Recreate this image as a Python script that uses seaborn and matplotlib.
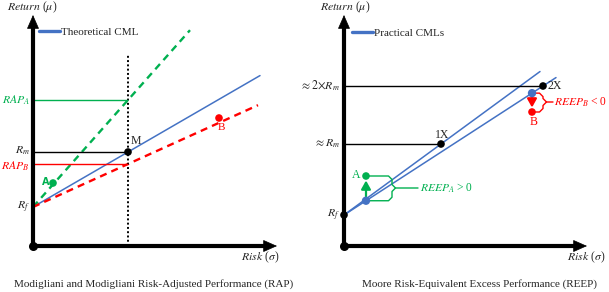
import numpy as np
import matplotlib as mpl
import matplotlib.pyplot as plt
import seaborn as sns

# ---- left panel (RAP): risk / return in schematic units ----
rf_left = 3.9
m_risk, m_return = 9.5, 9.4
rap_a = 14.6
rap_b = 8.2
cml_end = 22.7
green_end = 15.7
red_end = 22.5
point_a = (2.0, 6.3)
point_b = (18.6, 12.8)
dotted_top = 19.2

# ---- right panel (REEP) ----
rf_right = 3.1
x1_point = (9.7, 10.2)
x2_point = (19.9, 16.0)
upper_end = 19.6
lower_end = 21.2
a_risk, a_return = 2.2, 7.0
b_risk, b_return = 18.8, 13.4

BLUE = '#4472C4'
GREEN = '#00B050'
RED = '#FF0000'
FS = 8

sns.set_theme(style='white')
plt.rcParams['font.family'] = ['Liberation Serif', 'DejaVu Serif']
plt.rcParams['mathtext.fontset'] = 'stix'


def draw_axes(ax, xmax, ymax):
    ax.plot([0, xmax - 1.0], [0, 0], lw=3, color='black', solid_capstyle='butt', zorder=5)
    ax.plot([0, 0], [0, ymax - 1.0], lw=3, color='black', solid_capstyle='butt', zorder=5)
    head = dict(arrowstyle='-|>,head_length=0.75,head_width=0.33', mutation_scale=12,
                lw=0.5, color='black', shrinkA=0, shrinkB=0)
    ax.annotate('', xy=(xmax, 0), xytext=(xmax - 1.5, 0), arrowprops=head, zorder=6)
    ax.annotate('', xy=(0, ymax), xytext=(0, ymax - 1.5), arrowprops=head, zorder=6)
    ax.scatter([0], [0], s=30, color='black', zorder=7)


def line_from(ax, x0, y0, slope, x_end, **kw):
    xs = np.array([x0, x_end])
    sns.lineplot(x=xs, y=y0 + slope * (xs - x0), ax=ax, estimator=None, **kw)


def brace(ax, x0, top, bottom, bx, tx, mid, color):
    # a right-facing curly brace joining two points, with a tick out to the label
    c = 0.35
    ax.plot([x0, bx - c, bx, bx, bx + c, tx], [top, top, top - c, mid + c, mid, mid],
            color=color, lw=1.0, solid_joinstyle='round')
    ax.plot([bx + c, bx, bx, bx - c, x0], [mid, mid - c, bottom + c, bottom, bottom],
            color=color, lw=1.0, solid_joinstyle='round')


fig = plt.figure(figsize=(6.09, 2.92), dpi=100)
axL = fig.add_axes([0, 0, 304 / 609, 1])
axR = fig.add_axes([305 / 609, 0, 304 / 609, 1])
axL.set_xlim(-3.3, 27.1)
axR.set_xlim(-3.9, 26.5)
for ax in (axL, axR):
    ax.set_ylim(-4.6, 24.6)
    ax.axis('off')

# ================= left panel =================
ax = axL
draw_axes(ax, 24.4, 23.1)
cml_slope = (m_return - rf_left) / m_risk
green_slope = (rap_a - rf_left) / m_risk
red_slope = (rap_b - rf_left) / m_risk

line_from(ax, 0, rf_left, cml_slope, cml_end, color=BLUE, lw=1.1, label='Theoretical CML')
line_from(ax, 0, rf_left, green_slope, green_end, color=GREEN, lw=1.7, linestyle=(0, (3, 2.2)))
line_from(ax, 0, rf_left, red_slope, red_end, color=RED, lw=1.7, linestyle=(0, (3, 2.2)))

ax.vlines(m_risk, 0, dotted_top, color='black', lw=1.4, linestyles=(0, (1, 1.2)))
ax.hlines(rap_a, 0, m_risk, color=GREEN, lw=1.0)
ax.hlines(m_return, 0, m_risk, color='black', lw=1.0)
ax.hlines(rap_b, 0, m_risk, color=RED, lw=1.0)

sns.scatterplot(x=[m_risk], y=[m_return], ax=ax, color='black', s=30, edgecolor='none', zorder=8)
sns.scatterplot(x=[point_a[0]], y=[point_a[1]], ax=ax, color=GREEN, s=30, edgecolor='none', zorder=8)
sns.scatterplot(x=[point_b[0]], y=[point_b[1]], ax=ax, color=RED, s=30, edgecolor='none', zorder=8)

ax.text(m_risk + 0.3, m_return + 1.1, 'M', fontsize=FS + 0.5, ha='left', va='center')
ax.text(point_a[0] - 0.4, point_a[1] + 0.1, 'A', fontsize=7, color=GREEN, fontweight='bold',
        family='DejaVu Sans', ha='right', va='center')
ax.text(point_b[0] + 0.2, point_b[1] - 0.9, 'B', fontsize=FS, color=RED, ha='center', va='center')

ax.text(-0.3, rap_a, r'$RAP_A$', fontsize=FS + 0.5, color=GREEN, ha='right', va='center')
ax.text(-0.3, m_return + 0.1, r'$R_m$', fontsize=FS + 0.5, ha='right', va='center')
ax.text(-0.3, rap_b - 0.2, r'$RAP_B$', fontsize=FS + 0.5, color=RED, ha='right', va='center')
ax.text(-0.3, rf_left, r'$R_f$', fontsize=FS + 0.5, ha='right', va='center')

ax.text(-0.1, 23.9, r'$Return$ ($\mu$)', fontsize=FS + 0.5, ha='center', va='center')
ax.text(24.6, -1.1, r'$Risk$ ($\sigma$)', fontsize=FS + 0.5, ha='right', va='center')
ax.text(12.1, -3.8, 'Modigliani and Modigliani Risk-Adjusted Performance (RAP)',
        fontsize=FS, ha='center', va='center')

leg = ax.legend(loc='center left', bbox_to_anchor=(0.6, 21.4), bbox_transform=ax.transData,
                frameon=False, borderpad=0, borderaxespad=0, handlelength=1.9,
                handletextpad=0.1, fontsize=FS)
for h in leg.legend_handles:
    h.set_linewidth(2.4)

# ================= right panel =================
ax = axR
draw_axes(ax, 24.3, 23.1)
upper_slope = (x1_point[1] - rf_right) / x1_point[0]
lower_slope = (x2_point[1] - rf_right) / x2_point[0]

line_from(ax, 0, rf_right, upper_slope, upper_end, color=BLUE, lw=1.1, label='Practical CMLs')
line_from(ax, 0, rf_right, lower_slope, lower_end, color=BLUE, lw=1.1)

ax.hlines(x1_point[1], 0, x1_point[0], color='black', lw=1.0)
ax.hlines(x2_point[1], 0, x2_point[0], color='black', lw=1.0)

a_base = rf_right + lower_slope * a_risk
b_base = rf_right + lower_slope * b_risk

# arrows from the CML twin to the portfolios
tip = dict(arrowstyle='-|>,head_length=0.5,head_width=0.28', mutation_scale=10,
           lw=1.6, shrinkA=0, shrinkB=0)
ax.annotate('', xy=(a_risk, a_return - 0.45), xytext=(a_risk, a_base),
            arrowprops=dict(tip, color=GREEN), zorder=6)
ax.annotate('', xy=(b_risk, b_return + 0.45), xytext=(b_risk, b_base),
            arrowprops=dict(tip, color=RED), zorder=6)

brace(ax, a_risk, a_return, a_base, 4.8, 7.4, 5.8, GREEN)
ax.text(7.6, 5.8, r'$REEP_A$ > 0', fontsize=FS + 0.3, color=GREEN, ha='left', va='center')

brace(ax, b_risk, b_base, b_return, 19.9, 20.9, 14.4, RED)
ax.text(21.0, 14.4, r'$REEP_B$ < 0', fontsize=FS + 0.3, color=RED, ha='left', va='center')

sns.scatterplot(x=[x1_point[0], x2_point[0], 0], y=[x1_point[1], x2_point[1], rf_right], ax=ax,
                color='black', s=30, edgecolor='none', zorder=8)
sns.scatterplot(x=[a_risk, b_risk], y=[a_base, b_base], ax=ax, color=BLUE, s=36,
                edgecolor='none', zorder=8)
sns.scatterplot(x=[a_risk], y=[a_return], ax=ax, color=GREEN, s=30, edgecolor='none', zorder=8)
sns.scatterplot(x=[b_risk], y=[b_return], ax=ax, color=RED, s=30, edgecolor='none', zorder=8)

ax.text(x1_point[0] + 0.1, x1_point[1] + 0.9, '1X', fontsize=FS + 0.5, ha='center', va='center')
ax.text(x2_point[0] + 0.5, x2_point[1], '2X', fontsize=FS + 0.5, ha='left', va='center')
ax.text(a_risk - 0.6, a_return + 0.1, 'A', fontsize=FS + 0.5, color=GREEN, ha='right', va='center')
ax.text(b_risk + 0.2, b_return - 1.0, 'B', fontsize=FS + 0.5, color=RED, ha='center', va='center')

ax.text(-0.4, x2_point[1], r'$\approx 2{\times}R_m$', fontsize=FS + 0.5, ha='right', va='center')
ax.text(-0.4, x1_point[1], r'$\approx R_m$', fontsize=FS + 0.5, ha='right', va='center')
ax.text(-0.4, rf_right, r'$R_f$', fontsize=FS + 0.5, ha='right', va='center')

ax.text(0.15, 23.9, r'$Return$ ($\mu$)', fontsize=FS + 0.5, ha='center', va='center')
ax.text(26.1, -1.1, r'$Risk$ ($\sigma$)', fontsize=FS + 0.5, ha='right', va='center')
ax.text(13.6, -3.8, 'Moore Risk-Equivalent Excess Performance (REEP)',
        fontsize=FS, ha='center', va='center')

leg = ax.legend(loc='center left', bbox_to_anchor=(0.8, 21.3), bbox_transform=ax.transData,
                frameon=False, borderpad=0, borderaxespad=0, handlelength=1.9,
                handletextpad=0.1, fontsize=FS)
for h in leg.legend_handles:
    h.set_linewidth(2.4)

mpl.rcParams['savefig.facecolor'] = 'white'
fig.savefig('out.png', dpi=100)
plt.close(fig)
